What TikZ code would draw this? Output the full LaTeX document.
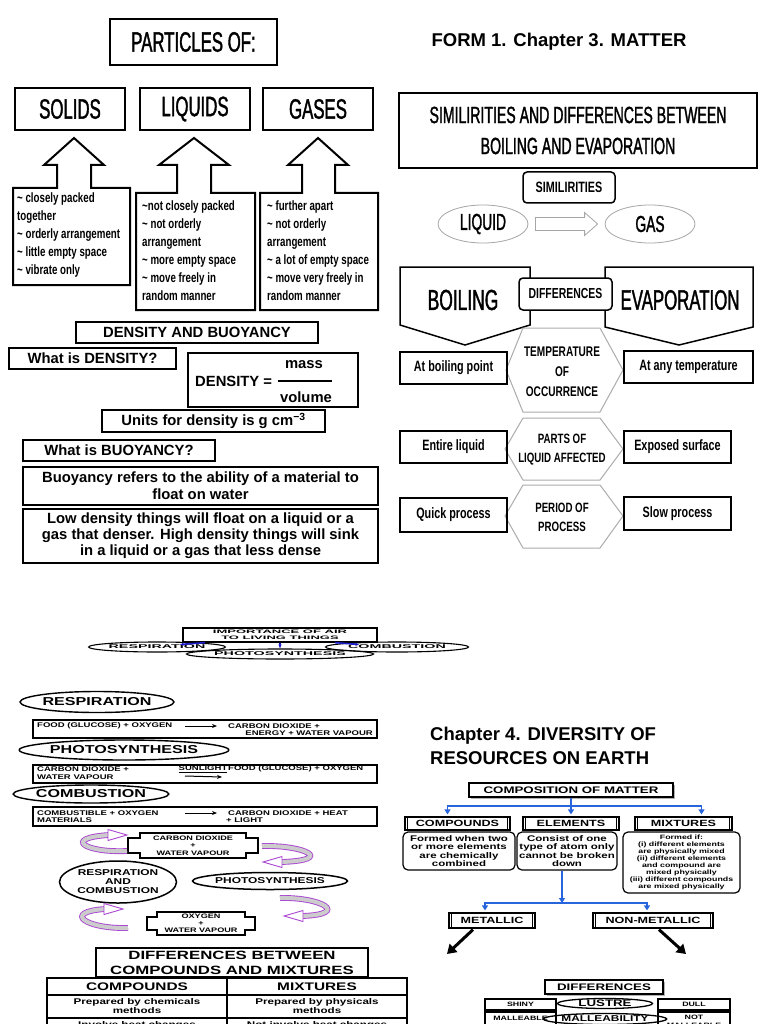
\documentclass[tikz,border=0pt]{standalone}
\usepackage{fontspec}
\setmainfont{Liberation Sans}
\newfontfamily\nar[FakeStretch=0.6,FakeBold=1.3]{Liberation Sans}
\newfontfamily\narb[FakeStretch=0.72]{Liberation Sans}
\newfontfamily\wid[FakeStretch=1.4]{Liberation Sans}
\newfontfamily\xwid[FakeStretch=2.6]{Liberation Sans}
\usetikzlibrary{shapes.geometric,arrows.meta,calc,shadows}
\newcommand\fz[2]{\fontsize{#1}{#2}\selectfont}
\newcommand\tld{\textasciitilde}
\newcommand\bnode[7]{\node[#6,minimum width={#4-#2},minimum height={#5-#3}] (#1) at ({(#2+#4)/2},{(#3+#5)/2}) {#7};}
\newcommand\bars[1]{\draw[line width=0.9pt] ($(#1.north west)+(3.5,0)$) -- ($(#1.south west)+(3.5,0)$) ($(#1.north east)+(-3.5,0)$) -- ($(#1.south east)+(-3.5,0)$);}
\newcommand\parrow[2]{\draw[purp,line width=0.9pt,double=gray!40,double distance=4pt] #1; \draw[purp,fill=white,line width=0.9pt,line join=miter] #2;}
\definecolor{purp}{RGB}{170,70,210}
\definecolor{bblue}{RGB}{40,100,220}
\definecolor{dblue}{RGB}{30,30,200}
\tikzset{
 bx/.style={draw,line width=1.5pt,inner sep=0pt,align=center},
 thk/.style={draw,line width=2.6pt,inner sep=0pt,align=center},
 rbx/.style={bx,rounded corners=4pt},
 hexa/.style={draw=gray!65,line width=1pt},
 ell/.style={draw,ellipse,line width=1.4pt,inner sep=0pt,align=center},
 txt/.style={inner sep=0pt,align=center},
 ltxt/.style={inner sep=0pt,align=left,anchor=north west},
 bline/.style={draw=bblue,line width=1.6pt},
 barr/.style={bline,-{Triangle[length=5pt,width=6pt]}},
 karr/.style={line width=1pt,-{Stealth[length=5pt,width=4pt]}},
 blkarr/.style={line width=3pt,-{Triangle[length=9pt,width=11pt]}},
 st/.style={inner sep=0pt,font=\wid\bfseries\fz{6.8}{6.8}},
 shd/.style={drop shadow={shadow xshift=1.5pt,shadow yshift=-1.5pt,fill=gray!60,opacity=1}},
 ptx/.style={ltxt,font=\narb\bfseries\fz{13.5}{18}},
 sbt/.style={bx,font=\narb\bfseries\fz{15}{15}},
 hxt/.style={txt,font=\narb\bfseries\fz{14}{20}},
 dbt/.style={bx,font=\bfseries\fz{14.8}{17}},
}
\begin{document}
\begin{tikzpicture}[x=1pt,y=-1pt]
\useasboundingbox[fill=white] (0,0) rectangle (768,1024);
\clip (0,0) rectangle (768,1024);

% ---------- Particles ----------
\bnode{pof}{110}{19}{277}{65}{thk,font=\nar\fz{28}{28}}{PARTICLES OF:}
\bnode{sol}{15}{88}{125}{130}{thk,font=\nar\fz{28}{28}}{SOLIDS}
\bnode{liq}{140}{88}{250}{130}{thk,font=\nar\fz{28}{28}}{LIQUIDS}
\bnode{gas}{263}{88}{373}{130}{thk,font=\nar\fz{28}{28}}{GASES}
\draw[line width=2pt,line join=miter] (13,188) -- (57,188) -- (57,165) -- (44,165) -- (74,138) -- (104,165) -- (91,165) -- (91,188) -- (130,188) -- (130,285) -- (13,285) -- cycle;
\draw[line width=2pt,line join=miter] (136,193) -- (177,193) -- (177,165) -- (159,165) -- (194,138) -- (229,165) -- (211,165) -- (211,193) -- (255,193) -- (255,310) -- (136,310) -- cycle;
\draw[line width=2pt,line join=miter] (260,193) -- (302,193) -- (302,165) -- (288,165) -- (318,138) -- (348,165) -- (335,165) -- (335,193) -- (378,193) -- (378,310) -- (260,310) -- cycle;
\node[ptx] (soltx) at (17,193) {\tld{} closely packed\\together\\\tld{} orderly arrangement\\\tld{} little empty space\\\tld{} vibrate only};
\node[ptx] (liqtx) at (142,200.5) {\tld{}not closely packed\\\tld{} not orderly\\arrangement\\\tld{} more empty space\\\tld{} move freely in\\random manner};
\node[ptx] (gastx) at (267,200.5) {\tld{} further apart\\\tld{} not orderly\\arrangement\\\tld{} a lot of empty space\\\tld{} move very freely in\\random manner};

% ---------- Boiling / evaporation ----------
\node[txt,font=\bfseries\fz{18.5}{18.5}] (form) at (559,42) {FORM 1. Chapter 3. MATTER};
\bnode{simt}{399}{93}{757}{168}{thk,font=\nar\fz{23.5}{31}}{SIMILIRITIES AND DIFFERENCES BETWEEN\\BOILING AND EVAPORATION}
\bnode{simi}{523}{172}{615}{203}{rbx,font=\narb\bfseries\fz{15}{15}}{SIMILIRITIES}
\node[ell,draw=gray!70,line width=0.8pt,minimum width=90,minimum height=38,font=\nar\fz{23}{23}] (liqe) at (483,224) {LIQUID};
\node[ell,draw=gray!70,line width=0.8pt,minimum width=90,minimum height=38,font=\nar\fz{23}{23}] (gase) at (650,224) {GAS};
\draw[gray!70,line width=0.8pt] ($(liqe.east)+(7,-6.5)$) -- ($(gase.west)+(-20,-6.5)$) -- ($(gase.west)+(-20,-11.5)$) -- ($(gase.west)+(-7,0)$) -- ($(gase.west)+(-20,11.5)$) -- ($(gase.west)+(-20,6.5)$) -- ($(liqe.east)+(7,6.5)$) -- cycle;

\draw[line width=1.5pt] (400,267) -- (530,267) -- (530,325) -- (465,345) -- (400,325) -- cycle;
\node[txt,font=\nar\fz{29}{29}] (boil) at (463,300) {BOILING};
\draw[line width=1.5pt] (605,267) -- (753,267) -- (753,327) -- (679,345) -- (605,327) -- cycle;
\node[txt,font=\nar\fz{28}{28}] (evap) at (680,300) {EVAPORATION};
\bnode{diff}{519}{278}{612}{310}{rbx,fill=white,font=\narb\bfseries\fz{14.5}{14.5}}{DIFFERENCES}

\draw[hexa] (523,328) -- (600,328) -- (623,370) -- (600,412) -- (523,412) -- (506,370) -- cycle;
\node[hxt] (h1) at (562,372) {TEMPERATURE\\OF\\OCCURRENCE};
\draw[hexa] (523,418) -- (600,418) -- (623,449) -- (600,480) -- (523,480) -- (505,449) -- cycle;
\node[hxt,font=\narb\bfseries\fz{13.5}{19}] (h2) at (562,450) {PARTS OF\\LIQUID AFFECTED};
\draw[hexa] (523,485) -- (600,485) -- (623,516) -- (600,548) -- (523,548) -- (505,516) -- cycle;
\node[hxt,font=\narb\bfseries\fz{13.5}{19}] (h3) at (562,517) {PERIOD OF\\PROCESS};

\bnode{b1}{400}{352}{507}{384}{sbt}{At boiling point}
\bnode{e1}{624}{351}{753}{383}{sbt}{At any temperature}
\bnode{b2}{400}{431}{507}{463}{sbt}{Entire liquid}
\bnode{e2}{624}{431}{731}{463}{sbt}{Exposed surface}
\bnode{b3}{400}{498}{507}{532}{sbt}{Quick process}
\bnode{e3}{624}{497}{731}{530}{sbt}{Slow process}

% ---------- Density ----------
\bnode{dab}{76}{322}{318}{343}{dbt}{DENSITY AND BUOYANCY}
\bnode{wds}{9}{348}{176}{369}{dbt}{What is DENSITY?}
\bnode{dbox}{188}{353}{358}{407}{bx}{}
\node[txt,anchor=west,font=\bfseries\fz{14.8}{14.8}] (deq) at (195,381) {DENSITY =};
\node[txt,font=\bfseries\fz{14.8}{14.8}] (mass) at (304,365) {mass};
\node[txt,font=\bfseries\fz{14.8}{14.8}] (vol) at (306,397) {volume};
\draw[line width=1.5pt] (278,381) -- (332,381);
\bnode{unit}{102}{410}{325}{432}{dbt}{Units for density is g cm\textsuperscript{−3}}
\bnode{wby}{23}{440}{215}{461}{dbt}{What is BUOYANCY?}
\bnode{bref}{23}{467}{378}{505}{dbt}{Buoyancy refers to the ability of a material to\\float on water}
\bnode{low}{23}{509}{378}{563}{dbt,font=\bfseries\fz{14.8}{16}}{Low density things will float on a liquid or a\\gas that denser. High density things will sink\\in a liquid or a gas that less dense}

% ---------- Air ----------
\bnode{imp}{183}{628}{377}{642}{bx,line width=1.3pt,font=\xwid\bfseries\fz{5}{6.3}}{IMPORTANCE OF AIR\\TO LIVING THINGS}
\node[ell,line width=1.1pt,minimum width=127,minimum height=10,font=\xwid\bfseries\fz{5.5}{5.5}] (ar) at (157,647) {RESPIRATION};
\node[ell,line width=1.1pt,minimum width=143,minimum height=10,font=\xwid\bfseries\fz{5.5}{5.5}] (ac) at (397,647) {COMBUSTION};
\node[ell,line width=1.1pt,minimum width=187,minimum height=10,font=\xwid\bfseries\fz{5.5}{5.5}] (ap) at (280,654) {PHOTOSYNTHESIS};
\draw[dblue,line width=1.6pt,-{Stealth[length=4pt]}] ($(imp.south)+(-75,0)$) -- ($(ar.north)+(23,3)$);
\draw[dblue,line width=2.2pt,-{Stealth[length=4pt]}] (imp.south) -- (ap.north);
\draw[dblue,line width=1.6pt,-{Stealth[length=4pt]}] ($(imp.south)+(55,0)$) -- ($(ac.north)+(-38,3)$);

% ---------- Respiration / photosynthesis / combustion ----------
\node[ell,minimum width=123,minimum height=21,font=\wid\bfseries\fz{11.5}{11.5}] (re) at (97,702) {RESPIRATION};
\bnode{reb}{33}{720}{377}{738}{bx,line width=1.2pt}{}
\node[st,anchor=west] (r1a) at (37,726) {FOOD (GLUCOSE) + OXYGEN};
\node[st,anchor=west] (r1b) at (228,726) {CARBON DIOXIDE +};
\node[st,anchor=east] (r1c) at (373,733) {ENERGY + WATER VAPOUR};
\coordinate (a1s) at (185,726); \coordinate (a1e) at (217,726);
\draw[karr] (a1s) -- (a1e);

\node[ell,minimum width=192,minimum height=20,font=\wid\bfseries\fz{11.5}{11.5}] (ph) at (124,750) {PHOTOSYNTHESIS};
\bnode{phb}{33}{765}{377}{783}{bx,line width=1.2pt}{}
\node[st,anchor=west] (p1a) at (37,769) {CARBON DIOXIDE +};
\node[st,anchor=west] (p1b) at (37,777) {WATER VAPOUR};
\node[st] (sun) at (203,769) {\underline{SUNLIGHT}};
\coordinate (a2s) at (185,776); \coordinate (a2e) at (222,777);
\draw[karr] (a2s) -- (a2e);
\node[st,anchor=west] (p1c) at (228,769) {FOOD (GLUCOSE) + OXYGEN};

\node[ell,minimum width=122,minimum height=18,font=\wid\bfseries\fz{11.5}{11.5}] (co) at (91,794) {COMBUSTION};
\bnode{cob}{33}{807}{377}{826}{bx,line width=1.2pt}{}
\node[st,anchor=west] (c1a) at (37,813) {COMBUSTIBLE + OXYGEN};
\node[st,anchor=west] (c1b) at (37,820) {MATERIALS};
\coordinate (a3s) at (185,813); \coordinate (a3e) at (217,813);
\draw[karr] (a3s) -- (a3e);
\node[st,anchor=west] (c1c) at (228,813) {CARBON DIOXIDE + HEAT};
\node[st,anchor=west] (c1d) at (226,820) {+ LIGHT};

% ---------- Cycle ----------
\draw[line width=1.2pt] (140,833) -- (246,833) -- (246,838) -- (258,838) -- (258,853) -- (246,853) -- (246,858) -- (140,858) -- (140,853) -- (128,853) -- (128,838) -- (140,838) -- cycle;
\node[txt,font=\wid\bfseries\fz{6.5}{7.5}] (co2) at (193,845.5) {CARBON DIOXIDE\\+\\WATER VAPOUR};
\draw[line width=1.2pt] (157,912) -- (245,912) -- (245,917) -- (255,917) -- (255,930) -- (245,930) -- (245,935) -- (157,935) -- (157,930) -- (147,930) -- (147,917) -- (157,917) -- cycle;
\node[txt,font=\wid\bfseries\fz{6.5}{7}] (o2) at (201,923.5) {OXYGEN\\+\\WATER VAPOUR};
\node[ell,line width=1.5pt,minimum width=117,minimum height=42,font=\wid\bfseries\fz{8.5}{9}] (rc) at (118,882) {RESPIRATION\\AND\\COMBUSTION};
\node[ell,line width=1.5pt,minimum width=150,minimum height=17,font=\wid\bfseries\fz{8.5}{8.5}] (pc) at (270,881) {PHOTOSYNTHESIS};
\parrow{(127,851) .. controls (85,853) and (62,838) .. (109,835)}{(108,829.5) -- (127,835) -- (108,840.5) -- cycle}
\parrow{(262,846) .. controls (305,845) and (335,860) .. (282,862)}{(282,856.5) -- (263,862) -- (282,867.5) -- cycle}
\parrow{(280,898) .. controls (322,897) and (350,914) .. (303,916)}{(303,910.5) -- (284,916) -- (303,921.5) -- cycle}
\parrow{(128,928) .. controls (85,929) and (62,912) .. (105,909)}{(104,903.5) -- (123,909) -- (104,914.5) -- cycle}

% ---------- Compounds vs mixtures ----------
\bnode{dcm}{96}{948}{368}{977}{thk,line width=2.2pt,font=\wid\bfseries\fz{12}{15}}{DIFFERENCES BETWEEN\\COMPOUNDS AND MIXTURES}
\draw[line width=1.5pt] (47,978) rectangle (407,1040);
\draw[line width=1.5pt] (227,978) -- (227,1040) (47,995) -- (407,995) (47,1018) -- (407,1018);
\node[txt,font=\wid\bfseries\fz{11}{11}] (tc) at (137,987) {COMPOUNDS};
\node[txt,font=\wid\bfseries\fz{11}{11}] (tm) at (317,987) {MIXTURES};
\node[txt,font=\wid\bfseries\fz{8.3}{9}] (tc1) at (137,1006.5) {Prepared by chemicals\\methods};
\node[txt,font=\wid\bfseries\fz{8.3}{9}] (tm1) at (317,1006.5) {Prepared by physicals\\methods};
\node[txt,font=\wid\bfseries\fz{8.3}{9}] (tc2) at (137,1025) {Involve heat changes};
\node[txt,font=\wid\bfseries\fz{8.3}{9}] (tm2) at (317,1025) {Not involve heat changes};

% ---------- Chapter 4 ----------
\node[anchor=base west,inner sep=0pt,font=\bfseries\fz{18.5}{18.5}] (c4a) at (430,740) {Chapter 4. DIVERSITY OF};
\node[anchor=base west,inner sep=0pt,font=\bfseries\fz{18.5}{18.5}] (c4b) at (430,764) {RESOURCES ON EARTH};
\bnode{com}{469}{783}{673}{797}{bx,line width=1.2pt,fill=white,shd,font=\wid\bfseries\fz{9.5}{9.5}}{COMPOSITION OF MATTER}
\bnode{cpd}{405}{817}{510}{830}{bx,line width=1.2pt,font=\wid\bfseries\fz{9}{9}}{COMPOUNDS}
\bnode{ele}{523}{817}{619}{830}{bx,line width=1.2pt,font=\wid\bfseries\fz{9}{9}}{ELEMENTS}
\bnode{mix}{635}{817}{732}{830}{bx,line width=1.2pt,font=\wid\bfseries\fz{9}{9}}{MIXTURES}
\bars{cpd}\bars{ele}\bars{mix}
\coordinate (hb) at (571,806);
\draw[bline] (com.south) -- (hb);
\draw[barr] (hb) -| ($(cpd.north)+(-10,-2)$);
\draw[barr] (hb) -| ($(mix.north)+(18,-2)$);
\draw[barr] (hb) -- ($(ele.north)+(0,-2)$);
\bnode{cd}{403}{832}{515}{870}{bx,line width=1.2pt,rounded corners=5pt,font=\wid\bfseries\fz{8.2}{8.4}}{Formed when two\\or more elements\\are chemically\\combined}
\bnode{ed}{517}{832}{617}{870}{bx,line width=1.2pt,rounded corners=5pt,font=\wid\bfseries\fz{8.2}{8.4}}{Consist of one\\type of atom only\\cannot be broken\\down}
\bnode{md}{623}{832}{740}{893}{bx,line width=1.2pt,rounded corners=5pt,font=\wid\bfseries\fz{6.3}{7.1}}{Formed if:\\(i) different elements\\are physically mixed\\(ii) different elements\\and compound are\\mixed physically\\(iii) different compounds\\are mixed physically}
\bnode{met}{449}{913}{535}{928}{bx,line width=1.2pt,font=\wid\bfseries\fz{9}{9}}{METALLIC}
\bnode{nmet}{593}{913}{713}{928}{bx,line width=1.2pt,font=\wid\bfseries\fz{9}{9}}{NON-METALLIC}
\bars{met}\bars{nmet}
\coordinate (hb2) at (562,903);
\draw[barr] ($(ed.south)+(-5,0)$) -- (hb2);
\draw[barr] (hb2) -| ($(met.north)+(-7,-2)$);
\draw[barr] (hb2) -| ($(nmet.north)+(-6,-2)$);
\coordinate (ma) at (447,954);
\coordinate (na) at (686,954);
\draw[blkarr] ($(met.south)+(-19,1)$) -- (ma);
\draw[blkarr] ($(nmet.south)+(6,1)$) -- (na);

\bnode{dif2}{545}{980}{663}{994}{bx,line width=1.4pt,fill=white,shd,font=\wid\bfseries\fz{9.5}{9.5}}{DIFFERENCES}
\bnode{shn}{485}{999}{556}{1010}{bx,line width=1.2pt,font=\wid\bfseries\fz{6.3}{6.3}}{SHINY}
\node[ell,line width=1.3pt,minimum width=95,minimum height=10,font=\wid\bfseries\fz{9.5}{9.5}] (lus) at (605,1003.5) {LUSTRE};
\bnode{dul}{658}{999}{730}{1010}{bx,line width=1.2pt,font=\wid\bfseries\fz{6.3}{6.3}}{DULL}
\bnode{mal}{485}{1012}{556}{1028}{bx,line width=1.2pt}{}
\node[txt,font=\wid\bfseries\fz{6.3}{6.3}] (malt) at (520.5,1018.5) {MALLEABLE};
\node[ell,line width=1.3pt,minimum width=95,minimum height=11,font=\wid\bfseries\fz{8.5}{8.5}] (mlb) at (605,1019) {MALLEABILITY};
\bnode{notb}{658}{1012}{730}{1034}{bx,line width=1.2pt}{}
\node[txt,font=\wid\bfseries\fz{6.3}{8}] (nott) at (694,1021.5) {NOT\\MALLEABLE};
\end{tikzpicture}
\end{document}
